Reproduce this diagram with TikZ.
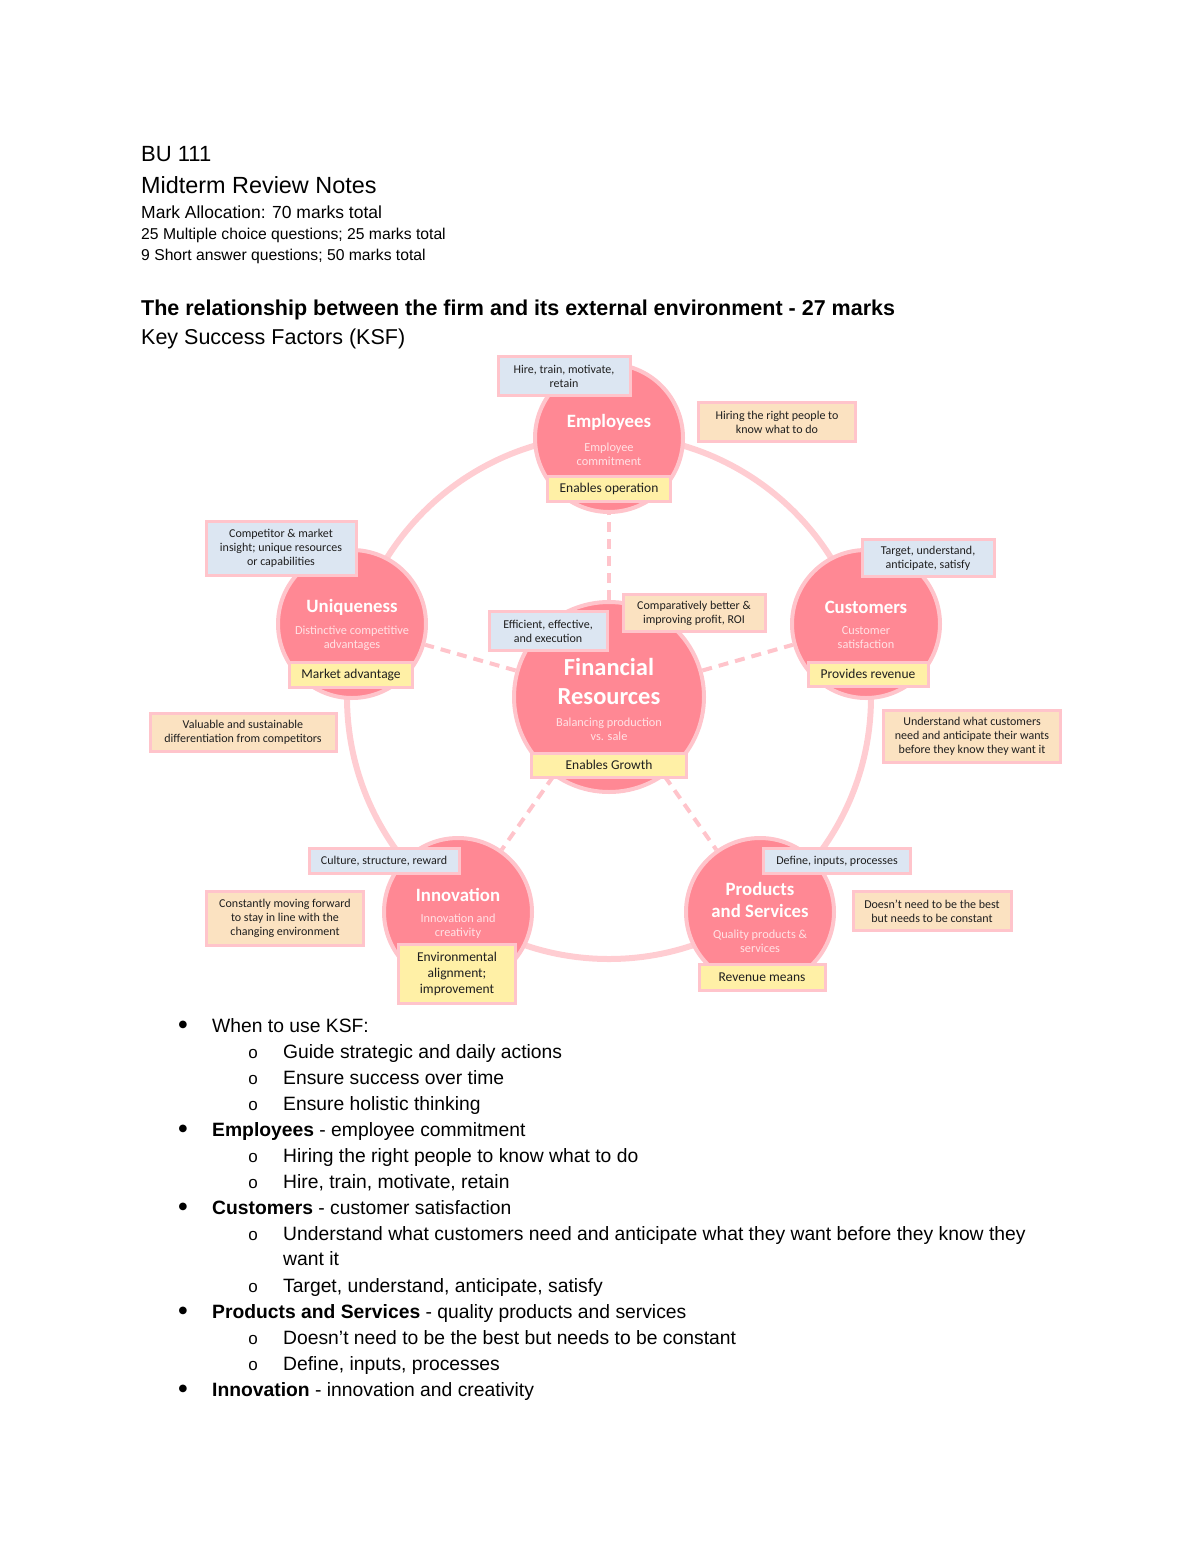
\documentclass[tikz,border=0pt]{standalone}
\usepackage{fontspec}
\setmainfont{Liberation Sans}
\newfontfamily\calib{Carlito}
\newfontfamily\symb{DejaVu Sans}
\usepackage{xcolor}
\usepackage{tikz}
\definecolor{ksfred}{HTML}{FF8894}
\definecolor{ksfrim}{HTML}{FFC4CB}
\definecolor{ksfpale}{HTML}{FFE2E5}
\definecolor{ringpink}{HTML}{FFCDD2}
\definecolor{noteblue}{HTML}{DCE6F2}
\definecolor{notetan}{HTML}{FBE2C1}
\definecolor{noteyel}{HTML}{FFF0A6}
\tikzset{
  ksf/.style={circle,fill=ksfred,draw=ksfrim,line width=4pt,minimum size=148pt,inner sep=0pt},
  ksfname/.style={text=white,font=\calib\bfseries\fontsize{18.8}{22}\selectfont,align=center,inner sep=0pt},
  ksfnote/.style={text=ksfpale,font=\calib\fontsize{12.3}{14}\selectfont,align=center,inner sep=0pt},
  note/.style={draw=ksfrim,line width=3pt,align=center,inner sep=1pt,text=black!88,font=\calib\fontsize{12}{14}\selectfont},
  bluenote/.style={note,fill=noteblue},
  tannote/.style={note,fill=notetan},
  yelnote/.style={note,fill=noteyel,font=\calib\fontsize{13.5}{16}\selectfont},
  ring/.style={draw=ringpink,line width=6pt},
  spoke/.style={draw=ksfrim,line width=4pt,dash pattern=on 10pt off 7pt},
  head/.style={anchor=base west,inner sep=0pt},
  item/.style={anchor=base west,inner sep=0pt,font=\fontsize{19.3}{22}\selectfont},
  dot/.style={inner sep=0pt,font=\symb\fontsize{10}{12}\selectfont},
  subdot/.style={anchor=base,inner sep=0pt,font=\fontsize{17}{18}\selectfont},
}

\begin{document}
\begin{tikzpicture}[x=1pt,y=-1pt]
\useasboundingbox (0,0) rectangle (1200,1553);

% page heading
\node[head,font=\fontsize{22}{24}\selectfont] (course) at (141,161) {BU 111};
\node[head,font=\fontsize{23.4}{26}\selectfont] (title) at (141,193) {Midterm Review Notes};
\node[head,font=\fontsize{17.5}{20}\selectfont] (marks) at (141,218) {Mark Allocation: 70 marks total};
\node[head,font=\fontsize{15.7}{18}\selectfont] (mc) at (141,239) {25 Multiple choice questions; 25 marks total};
\node[head,font=\fontsize{15.7}{18}\selectfont] (sa) at (141,260) {9 Short answer questions; 50 marks total};
\node[head,font=\bfseries\fontsize{21.5}{24}\selectfont] (topic) at (141,315) {The relationship between the firm and its external environment - 27 marks};
\node[head,font=\fontsize{21.5}{24}\selectfont] (ksfhead) at (141,344) {Key Success Factors (KSF)};

% KSF wheel
\coordinate (hub) at (609,697);
\draw[ring] (hub) circle[radius=262pt];

\node[ksf] (emp) at (609,438) {};
\node[ksf] (uniq) at (352,624) {};
\node[ksf] (cust) at (866,624) {};
\node[ksf,minimum size=190pt] (fin) at (hub) {};
\node[ksf] (innov) at (458,912) {};
\node[ksf] (prod) at (760,912) {};

\draw[spoke] (fin) -- (emp);
\draw[spoke] (fin) -- (uniq);
\draw[spoke] (fin) -- (cust);
\draw[spoke] (fin) -- (innov);
\draw[spoke] (fin) -- (prod);

\node[ksfname] (empt) at ([yshift=16pt]emp.center) {Employees};
\node[ksfnote] (emps) at ([yshift=-16pt]emp.center) {Employee\\commitment};
\node[ksfname] (uniqt) at ([yshift=17pt]uniq.center) {Uniqueness};
\node[ksfnote] (uniqs) at ([yshift=-14pt]uniq.center) {Distinctive competitive\\advantages};
\node[ksfname] (custt) at ([yshift=17pt]cust.center) {Customers};
\node[ksfnote] (custs) at ([yshift=-14pt]cust.center) {Customer\\satisfaction};
\node[ksfname,font=\calib\bfseries\fontsize{24.5}{29}\selectfont] (fint) at ([yshift=15.5pt]fin.center) {Financial\\Resources};
\node[ksfnote] (fins) at ([yshift=-32.5pt]fin.center) {Balancing production\\vs. sale};
\node[ksfname] (innovt) at ([yshift=17pt]innov.center) {Innovation};
\node[ksfnote] (innovs) at ([yshift=-14pt]innov.center) {Innovation and\\creativity};
\node[ksfname] (prodt) at ([yshift=12pt]prod.center) {Products\\and Services};
\node[ksfnote] (prods) at ([yshift=-29pt]prod.center) {Quality products \&\\services};

% notes round the wheel
\node[bluenote,minimum width=132pt,minimum height=39pt] (hire) at (564,376) {Hire, train, motivate,\\retain};
\node[tannote,minimum width=157pt,minimum height=39pt] (rightppl) at (777,422) {Hiring the right people to\\know what to do};
\node[yelnote,minimum width=123pt,minimum height=25pt] (oper) at (609,489) {Enables operation};
\node[bluenote,minimum width=150pt,minimum height=54pt] (insight) at (281,548) {Competitor \& market\\insight; unique resources\\or capabilities};
\node[yelnote,minimum width=123pt,minimum height=25pt] (mktadv) at (351,675) {Market advantage};
\node[tannote,minimum width=186pt,minimum height=38pt] (valuable) at (243,732) {Valuable and sustainable\\differentiation from competitors};
\node[bluenote,minimum width=118pt,minimum height=39pt] (effic) at (548,631) {Efficient, effective,\\and execution};
\node[tannote,minimum width=142pt,minimum height=37pt] (better) at (694,613) {Comparatively better \&\\improving profit, ROI};
\node[yelnote,minimum width=155pt,minimum height=24pt] (growth) at (609,765) {Enables Growth};
\node[bluenote,minimum width=132pt,minimum height=37pt] (target) at (928,558) {Target, understand,\\anticipate, satisfy};
\node[yelnote,minimum width=120pt,minimum height=24pt] (revenue) at (868,674) {Provides revenue};
\node[tannote,minimum width=177pt,minimum height=52pt] (anticip) at (972,736) {Understand what customers\\need and anticipate their wants\\before they know they want it};
\node[bluenote,minimum width=150pt,minimum height=25pt] (culture) at (384,861) {Culture, structure, reward};
\node[tannote,minimum width=157pt,minimum height=54pt] (forward) at (285,918) {Constantly moving forward\\to stay in line with the\\changing environment};
\node[yelnote,minimum width=117pt,minimum height=59pt] (envalign) at (457,974) {Environmental\\alignment;\\improvement};
\node[bluenote,minimum width=147pt,minimum height=25pt] (define) at (837,861) {Define, inputs, processes};
\node[tannote,minimum width=158pt,minimum height=39pt] (constant) at (932,911) {Doesn’t need to be the best\\but needs to be constant};
\node[yelnote,minimum width=126pt,minimum height=26pt] (means) at (762,977) {Revenue means};

% bullet list
\node[dot] (b1) at (183,1025) {●};
\node[item] (l1) at (212,1032) {When to use KSF:};
\node[subdot] (s1) at (253,1058) {o};
\node[item] (l2) at (283,1058) {Guide strategic and daily actions};
\node[subdot] (s2) at (253,1084) {o};
\node[item] (l3) at (283,1084) {Ensure success over time};
\node[subdot] (s3) at (253,1110) {o};
\node[item] (l4) at (283,1110) {Ensure holistic thinking};
\node[dot] (b2) at (183,1129) {●};
\node[item] (l5) at (212,1136) {\textbf{Employees} - employee commitment};
\node[subdot] (s4) at (253,1162) {o};
\node[item] (l6) at (283,1162) {Hiring the right people to know what to do};
\node[subdot] (s5) at (253,1188) {o};
\node[item] (l7) at (283,1188) {Hire, train, motivate, retain};
\node[dot] (b3) at (183,1207) {●};
\node[item] (l8) at (212,1214) {\textbf{Customers} - customer satisfaction};
\node[subdot] (s6) at (253,1240) {o};
\node[item] (l9) at (283,1240) {Understand what customers need and anticipate what they want before they know they};
\node[item] (l10) at (283,1265) {want it};
\node[subdot] (s7) at (253,1292) {o};
\node[item] (l11) at (283,1292) {Target, understand, anticipate, satisfy};
\node[dot] (b4) at (183,1311) {●};
\node[item] (l12) at (212,1318) {\textbf{Products and Services} - quality products and services};
\node[subdot] (s8) at (253,1344) {o};
\node[item] (l13) at (283,1344) {Doesn't need to be the best but needs to be constant};
\node[subdot] (s9) at (253,1370) {o};
\node[item] (l14) at (283,1370) {Define, inputs, processes};
\node[dot] (b5) at (183,1389) {●};
\node[item] (l15) at (212,1396) {\textbf{Innovation} - innovation and creativity};
\end{tikzpicture}
\end{document}
